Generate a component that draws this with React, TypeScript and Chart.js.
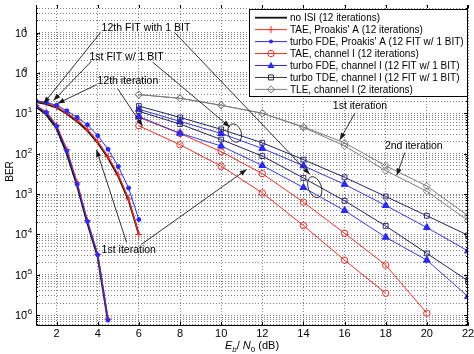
import React, { useEffect, useRef } from 'react';
import { Chart, registerables } from 'chart.js';

Chart.register(...registerables);

const W = 474;
const H = 354;
const FONT = '"Liberation Sans", Arial, Helvetica, sans-serif';

// ---------- Proakis' A channel (left bunches) ----------
const xProakis1st = [1, 1.5, 2, 2.5, 3, 3.5, 4, 4.5, 5, 5.5, 6];
const fdeProakis1st = [0.204, 0.186, 0.158, 0.115, 0.079, 0.052, 0.028, 0.0129, 4.8e-3, 1.41e-3, 2.34e-4];
const taeProakis1st = [0.2, 0.178, 0.145, 0.102, 0.068, 0.04, 0.02, 8.5e-3, 3.0e-3, 7.6e-4, 1.0e-4];
const noIsi1st = [0.19, 0.17, 0.138, 0.098, 0.063, 0.037, 0.0186, 7.9e-3, 2.75e-3, 7.1e-4, 1.0e-4];

const xProakis12 = [1, 1.5, 2, 2.5, 3, 3.5, 4, 4.5];
const fdeProakis12 = [0.151, 0.105, 0.048, 0.0117, 1.74e-3, 2.1e-4, 3.1e-5, 7.6e-7];
const taeProakis12 = [0.155, 0.108, 0.05, 0.0125, 1.9e-3, 2.2e-4, 3.2e-5, 8.0e-7];
const noIsi12 = [0.145, 0.093, 0.042, 0.01, 1.6e-3, 1.9e-4, 2.8e-5, 7.1e-7];

// ---------- channel I (right bunches) ----------
const xChannel = [6, 8, 10, 12, 14, 16, 18, 20, 22];
const tle1st = [0.29, 0.235, 0.158, 0.1, 0.046, 0.0186, 5.0e-3, 1.58e-3, 2.9e-4];
const tle2nd = [0.29, 0.235, 0.158, 0.1, 0.045, 0.0155, 3.8e-3, 1.17e-3, 2.2e-4];
const tde1st = [0.151, 0.079, 0.04, 0.0186, 7.1e-3, 2.6e-3, 8.7e-4, 2.9e-4, 9.5e-5];
const fde1st = [0.126, 0.063, 0.0316, 0.0135, 5.0e-3, 1.74e-3, 5.2e-4, 1.48e-4, 3.9e-5];
const tde12th = [0.112, 0.054, 0.0224, 8.7e-3, 2.5e-3, 6.8e-4, 1.62e-4, 3.4e-5, 7.1e-6];
const fde12th = [0.083, 0.032, 0.0155, 5.1e-3, 1.45e-3, 3.9e-4, 8.5e-5, 2.3e-5, 2.9e-6];
const xTae1st = [6, 8, 10, 12, 14, 16, 18, 20];
const tae1st = [0.079, 0.0316, 0.0112, 3.2e-3, 6.3e-4, 1.07e-4, 1.74e-5, 1.12e-6];
const xTae12th = [6, 8, 10, 12, 14, 16, 18];
const tae12th = [0.049, 0.0166, 4.9e-3, 1.07e-3, 1.66e-4, 2.3e-5, 3.5e-6];

// ---------- axes ----------
const xTicks = [2, 4, 6, 8, 10, 12, 14, 16, 18, 20, 22];
const yExponents = [1, 0, -1, -2, -3, -4, -5, -6];
const xMin = 1;
const xMax = 22;
const yMin = 5.4e-7;
const yMax = 48;

const legendLabels = [
  'no ISI (12 iterations)',
  "TAE, Proakis' A (12 iterations)",
  "turbo FDE, Proakis' A (12 FIT w/ 1 BIT)",
  'TAE, channel I (12 iterations)',
  'turbo FDE, channel I (12 FIT w/ 1 BIT)',
  'turbo TDE, channel I (12 FIT w/ 1 BIT)',
  'TLE, channel I (2 iterations)',
];

// ---------- annotations (data coordinates) ----------
const annoTexts = [
  { text: '12th FIT with 1 BIT', x: 4.19, y: 13.2 },
  { text: '1st FIT w/ 1 BIT', x: 3.6, y: 2.46 },
  { text: '12th iteration', x: 3.99, y: 0.638 },
  { text: '1st iteration', x: 4.19, y: 4.07e-5 },
  { text: '1st iteration', x: 15.43, y: 0.148 },
  { text: '2nd iteration', x: 17.96, y: 0.0157 },
];
const annoArrows = [
  { x1: 4.14, y1: 10, x2: 1.37, y2: 0.175 },
  { x1: 7.74, y1: 10, x2: 14.31, y2: 3.08e-3 },
  { x1: 3.7, y1: 1.96, x2: 1.85, y2: 0.207 },
  { x1: 6.67, y1: 1.85, x2: 10.42, y2: 0.0456 },
  { x1: 3.94, y1: 0.509, x2: 2.05, y2: 0.175 },
  { x1: 4.97, y1: 0.407, x2: 6.18, y2: 0.0482 },
  { x1: 5.4, y1: 6.38e-5, x2: 3.94, y2: 0.0125 },
  { x1: 6.13, y1: 5.7e-5, x2: 11.24, y2: 4.07e-3 },
  { x1: 16.5, y1: 0.1, x2: 15.77, y2: 0.0219 },
  { x1: 18.93, y1: 0.0106, x2: 18.54, y2: 2.9e-3 },
];
const annoEllipses = [
  { x: 10.66, y: 0.0325 },
  { x: 14.55, y: 1.48e-3 },
];

const RED = '#e8302a';
const BLUE = '#2a2af0';
const BLUE_LINE = '#3a3ad6';
const NAVY = '#23235e';
const GRAY = '#7d7d7d';
const BLACK = '#111111';

const pts = (xs: number[], ys: number[]) => xs.map((x, i) => ({ x, y: ys[i] }));

function line(label: string, xs: number[], ys: number[], color: string, extra: any = {}) {
  return {
    label,
    data: pts(xs, ys),
    borderColor: color,
    backgroundColor: color,
    borderWidth: 1,
    pointRadius: 0,
    pointBorderColor: color,
    pointBackgroundColor: color,
    pointBorderWidth: 1,
    tension: 0,
    ...extra,
  };
}

function drawMarker(ctx: CanvasRenderingContext2D, kind: string, x: number, y: number, color: string) {
  ctx.save();
  ctx.strokeStyle = color;
  ctx.fillStyle = color;
  ctx.lineWidth = 1;
  ctx.beginPath();
  if (kind === 'plus') {
    ctx.moveTo(x, y - 3.5);
    ctx.lineTo(x, y + 3.5);
    ctx.moveTo(x - 3.5, y);
    ctx.lineTo(x + 3.5, y);
    ctx.stroke();
  } else if (kind === 'dot') {
    ctx.arc(x, y, 2, 0, Math.PI * 2);
    ctx.fill();
  } else if (kind === 'circle') {
    ctx.arc(x, y, 3.2, 0, Math.PI * 2);
    ctx.stroke();
  } else if (kind === 'triangle') {
    ctx.moveTo(x, y - 3.8);
    ctx.lineTo(x + 3.5, y + 2.6);
    ctx.lineTo(x - 3.5, y + 2.6);
    ctx.closePath();
    ctx.fill();
  } else if (kind === 'square') {
    ctx.rect(x - 2.5, y - 2.5, 5, 5);
    ctx.stroke();
  } else if (kind === 'diamond') {
    ctx.moveTo(x, y - 3.6);
    ctx.lineTo(x + 3.6, y);
    ctx.lineTo(x, y + 3.6);
    ctx.lineTo(x - 3.6, y);
    ctx.closePath();
    ctx.stroke();
  }
  ctx.restore();
}

function drawArrow(ctx: CanvasRenderingContext2D, x1: number, y1: number, x2: number, y2: number) {
  ctx.beginPath();
  ctx.moveTo(x1, y1);
  ctx.lineTo(x2, y2);
  ctx.stroke();
  const a = Math.atan2(y2 - y1, x2 - x1);
  const L = 7;
  const w = 2.6;
  const bx = x2 - L * Math.cos(a);
  const by = y2 - L * Math.sin(a);
  ctx.beginPath();
  ctx.moveTo(x2, y2);
  ctx.lineTo(bx + w * Math.sin(a), by - w * Math.cos(a));
  ctx.lineTo(bx - w * Math.sin(a), by + w * Math.cos(a));
  ctx.closePath();
  ctx.fill();
}

const legendStyles = [
  { color: BLACK, marker: '', width: 1.8 },
  { color: RED, marker: 'plus', width: 1 },
  { color: BLUE, marker: 'dot', width: 1 },
  { color: RED, marker: 'circle', width: 1 },
  { color: BLUE, marker: 'triangle', width: 1 },
  { color: '#333333', marker: 'square', width: 1 },
  { color: GRAY, marker: 'diamond', width: 1 },
];

const overlay = {
  id: 'overlay',
  afterDraw(chart: any) {
    const ctx: CanvasRenderingContext2D = chart.ctx;
    const { left, right, top, bottom } = chart.chartArea;
    const xs = chart.scales.x;
    const ys = chart.scales.y;
    ctx.save();

    // axes box (left, right, bottom) and inward ticks
    ctx.strokeStyle = '#000';
    ctx.lineWidth = 1;
    ctx.beginPath();
    ctx.moveTo(left + 0.5, top);
    ctx.lineTo(left + 0.5, bottom - 0.5);
    ctx.lineTo(right - 0.5, bottom - 0.5);
    ctx.lineTo(right - 0.5, top);
    for (const v of xTicks) {
      const p = Math.round(xs.getPixelForValue(v)) + 0.5;
      ctx.moveTo(p, bottom);
      ctx.lineTo(p, bottom - 4);
      ctx.moveTo(p, top);
      ctx.lineTo(p, top + 3);
    }
    for (let e = -7; e <= 1; e++) {
      for (let m = 1; m <= 9; m++) {
        const v = m * Math.pow(10, e);
        if (v < yMin || v > yMax) continue;
        const p = Math.round(ys.getPixelForValue(v)) + 0.5;
        const len = m === 1 ? 4 : 2;
        ctx.moveTo(left, p);
        ctx.lineTo(left + len, p);
        ctx.moveTo(right, p);
        ctx.lineTo(right - len, p);
      }
    }
    ctx.stroke();

    // tick labels
    ctx.fillStyle = '#000';
    ctx.textBaseline = 'middle';
    ctx.textAlign = 'center';
    ctx.font = `11px ${FONT}`;
    for (const v of xTicks) {
      ctx.fillText(String(v), xs.getPixelForValue(v), bottom + 8);
    }
    ctx.textAlign = 'left';
    ctx.textBaseline = 'alphabetic';
    for (const e of yExponents) {
      const p = ys.getPixelForValue(Math.pow(10, e));
      ctx.font = `11px ${FONT}`;
      ctx.fillText('10', 15, p + 4);
      ctx.font = `8px ${FONT}`;
      ctx.fillText(String(e).replace('-', '\u2212'), 23, p - 1);
    }

    // y title
    ctx.save();
    ctx.translate(10, (top + bottom) / 2 + 6);
    ctx.rotate(-Math.PI / 2);
    ctx.textAlign = 'center';
    ctx.textBaseline = 'middle';
    ctx.font = `10px ${FONT}`;
    ctx.fillText('BER', 0, 0);
    ctx.restore();

    // x title: E_b/ N_0 (dB)
    const parts = [
      { t: 'E', f: `italic 11px ${FONT}`, dy: 0 },
      { t: 'b', f: `italic 8px ${FONT}`, dy: 3 },
      { t: '/ ', f: `11px ${FONT}`, dy: 0 },
      { t: 'N', f: `italic 11px ${FONT}`, dy: 0 },
      { t: '0', f: `8px ${FONT}`, dy: 3 },
      { t: ' (dB)', f: `11px ${FONT}`, dy: 0 },
    ];
    let total = 0;
    for (const p of parts) {
      ctx.font = p.f;
      total += ctx.measureText(p.t).width;
    }
    let cx = (left + right) / 2 - total / 2;
    const base = bottom + 23;
    for (const p of parts) {
      ctx.font = p.f;
      ctx.fillText(p.t, cx, base + p.dy);
      cx += ctx.measureText(p.t).width;
    }

    // annotations
    ctx.strokeStyle = '#1a1a1a';
    ctx.fillStyle = '#1a1a1a';
    ctx.lineWidth = 0.9;
    for (const a of annoArrows) {
      drawArrow(
        ctx,
        xs.getPixelForValue(a.x1),
        ys.getPixelForValue(a.y1),
        xs.getPixelForValue(a.x2),
        ys.getPixelForValue(a.y2)
      );
    }
    annoEllipses.forEach((e, i) => {
      ctx.beginPath();
      ctx.ellipse(
        xs.getPixelForValue(e.x),
        ys.getPixelForValue(e.y),
        i === 0 ? 6.5 : 6.5,
        i === 0 ? 9.5 : 11,
        -0.35,
        0,
        Math.PI * 2
      );
      ctx.stroke();
    });
    ctx.fillStyle = '#000';
    ctx.font = `10.5px ${FONT}`;
    ctx.textBaseline = 'middle';
    ctx.textAlign = 'left';
    for (const t of annoTexts) {
      ctx.fillText(t.text, xs.getPixelForValue(t.x), ys.getPixelForValue(t.y));
    }

    // legend box
    const lgLeft = 249;
    const lgTop = top + 4;
    const lgRight = right;
    const lgBottom = top + 92;
    ctx.fillStyle = '#fff';
    ctx.fillRect(lgLeft, lgTop, lgRight - lgLeft, lgBottom - lgTop);
    ctx.strokeStyle = '#000';
    ctx.lineWidth = 1;
    ctx.strokeRect(lgLeft + 0.5, lgTop + 0.5, lgRight - lgLeft - 1, lgBottom - lgTop - 1);
    ctx.font = `10px ${FONT}`;
    ctx.textBaseline = 'middle';
    legendLabels.forEach((label, i) => {
      const st = legendStyles[i];
      const y = lgTop + 8.7 + i * 11.95;
      ctx.strokeStyle = st.color;
      ctx.lineWidth = st.width;
      ctx.beginPath();
      ctx.moveTo(lgLeft + 6, y);
      ctx.lineTo(lgLeft + 38, y);
      ctx.stroke();
      if (st.marker) drawMarker(ctx, st.marker, lgLeft + 22, y, st.color);
      ctx.fillStyle = '#000';
      ctx.fillText(label, lgLeft + 41, y + 0.5);
    });

    ctx.restore();
  },
};

export default function App() {
  const ref = useRef<HTMLCanvasElement>(null);

  useEffect(() => {
    const hollow = 'rgba(0,0,0,0)';
    const datasets: any[] = [
      // channel I
      line('TLE 1st', xChannel, tle1st, GRAY, { pointStyle: 'rectRot', pointRadius: 3.6, pointBackgroundColor: hollow }),
      line('TLE 2nd', xChannel, tle2nd, GRAY, { pointStyle: 'rectRot', pointRadius: 3.6, pointBackgroundColor: hollow }),
      line('TDE 1st', xChannel, tde1st, NAVY, { pointStyle: 'rect', pointRadius: 3.4, pointBackgroundColor: hollow, pointBorderColor: '#30307a' }),
      line('TDE 12th', xChannel, tde12th, NAVY, { pointStyle: 'rect', pointRadius: 3.4, pointBackgroundColor: hollow, pointBorderColor: '#30307a' }),
      line('FDE 1st', xChannel, fde1st, BLUE_LINE, { pointStyle: 'triangle', pointRadius: 4, pointBackgroundColor: BLUE, pointBorderColor: BLUE }),
      line('FDE 12th', xChannel, fde12th, BLUE_LINE, { pointStyle: 'triangle', pointRadius: 4, pointBackgroundColor: BLUE, pointBorderColor: BLUE }),
      line('TAE 1st', xTae1st, tae1st, RED, { pointStyle: 'circle', pointRadius: 3.2, pointBackgroundColor: hollow }),
      line('TAE 12th', xTae12th, tae12th, RED, { pointStyle: 'circle', pointRadius: 3.2, pointBackgroundColor: hollow }),
      // Proakis' A
      line('FDE PA 1st', xProakis1st, fdeProakis1st, BLUE, { pointStyle: 'circle', pointRadius: 2 }),
      line('TAE PA 1st', xProakis1st, taeProakis1st, RED, { pointStyle: 'cross', pointRadius: 3.5, borderWidth: 1.3 }),
      line('no ISI 1st', xProakis1st, noIsi1st, BLACK, { borderWidth: 2 }),
      line('FDE PA 12', xProakis12, fdeProakis12, BLUE, { pointStyle: 'circle', pointRadius: 2 }),
      line('TAE PA 12', xProakis12, taeProakis12, RED, { pointStyle: 'cross', pointRadius: 3.5, borderWidth: 1.3 }),
      line('no ISI 12', xProakis12, noIsi12, BLACK, { borderWidth: 2 }),
    ];

    const gridColor = 'rgba(90,90,90,0.75)';
    const chart = new Chart(ref.current as HTMLCanvasElement, {
      type: 'line',
      data: { datasets },
      options: {
        animation: false,
        responsive: false,
        devicePixelRatio: 1,
        layout: { padding: { left: 0, right: 6, top: 0, bottom: 0 } },
        plugins: { legend: { display: false }, tooltip: { enabled: false } },
        scales: {
          x: {
            type: 'linear',
            min: xMin,
            max: xMax,
            afterBuildTicks: (axis: any) => {
              axis.ticks = xTicks.map((v) => ({ value: v }));
            },
            afterFit: (s: any) => {
              s.height = 28;
            },
            ticks: { display: false },
            grid: { color: gridColor, lineWidth: 1, drawTicks: false },
            border: { display: false, dash: [1, 2] },
          },
          y: {
            type: 'logarithmic',
            min: yMin,
            max: yMax,
            afterBuildTicks: (axis: any) => {
              const t: any[] = [];
              for (let e = -7; e <= 1; e++) {
                for (let m = 1; m <= 9; m++) {
                  const v = m * Math.pow(10, e);
                  if (v >= yMin && v <= yMax) t.push({ value: v });
                }
              }
              axis.ticks = t;
            },
            afterFit: (s: any) => {
              s.width = 36;
            },
            ticks: { display: false },
            grid: { color: gridColor, lineWidth: 1, drawTicks: false },
            border: { display: false, dash: [1, 2] },
          },
        },
      },
      plugins: [overlay],
    } as any);
    return () => chart.destroy();
  }, []);

  return (
    <div style={{ position: 'absolute', left: 0, top: 0, width: W, height: H, background: '#fff' }}>
      <canvas ref={ref} width={W} height={H} style={{ width: W, height: H, display: 'block' }} />
    </div>
  );
}
